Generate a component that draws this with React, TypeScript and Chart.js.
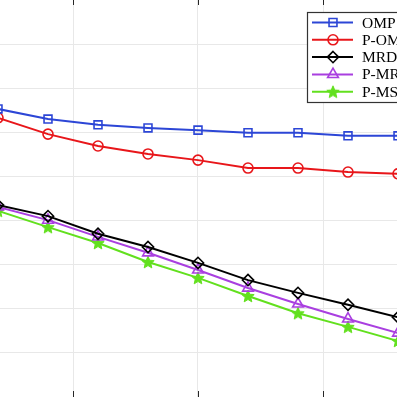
import React, { useEffect, useRef } from "react";
import { Chart, registerables } from "chart.js";
Chart.register(...registerables);

const xValues = [2, 4, 6, 8, 10, 12, 14, 16, 18];
const seriesLabels = ["OMP", "P-OMP", "MRD-OMP", "P-MRD-OMP", "P-MSOMP"];
const ompValues = [6.53, 6.3, 6.17, 6.1, 6.05, 5.99, 5.99, 5.92, 5.92];
const pOmpValues = [6.33, 5.96, 5.69, 5.51, 5.37, 5.19, 5.19, 5.1, 5.06];
const mrdOmpValues = [4.35, 4.1, 3.7, 3.4, 3.04, 2.65, 2.36, 2.09, 1.81];
const pMrdOmpValues = [4.31, 4.01, 3.63, 3.27, 2.88, 2.47, 2.11, 1.77, 1.45];
const pMsompValues = [4.22, 3.85, 3.49, 3.06, 2.7, 2.29, 1.9, 1.59, 1.27];
const xGridTicks = [5, 10, 15];
const yGridTicks = [1, 2, 3, 4, 5, 6, 7, 8];

const colors = ["#2c46d6", "#e8161a", "#000000", "#a93fe0", "#62e01e"];

function makeStar(color: string, size: number) {
  const c = document.createElement("canvas");
  c.width = size;
  c.height = size;
  const ctx = c.getContext("2d")!;
  const cx = size / 2;
  const cy = size / 2 + 0.6;
  const R = size / 2 - 0.5;
  const r = R * 0.45;
  ctx.beginPath();
  for (let i = 0; i < 10; i++) {
    const a = -Math.PI / 2 + (i * Math.PI) / 5;
    const rad = i % 2 === 0 ? R : r;
    ctx.lineTo(cx + rad * Math.cos(a), cy + rad * Math.sin(a));
  }
  ctx.closePath();
  ctx.fillStyle = color;
  ctx.fill();
  ctx.strokeStyle = color;
  ctx.lineWidth = 1;
  ctx.stroke();
  return c;
}

function drawMarker(ctx: CanvasRenderingContext2D, style: any, x: number, y: number, r: number, color: string) {
  ctx.save();
  ctx.strokeStyle = color;
  ctx.lineWidth = 1.6;
  ctx.beginPath();
  if (style === "rect") {
    const s = Math.SQRT1_2 * r;
    ctx.rect(x - s, y - s, 2 * s, 2 * s);
    ctx.stroke();
  } else if (style === "circle") {
    ctx.arc(x, y, r, 0, Math.PI * 2);
    ctx.stroke();
  } else if (style === "rectRot") {
    ctx.moveTo(x, y - r);
    ctx.lineTo(x + r, y);
    ctx.lineTo(x, y + r);
    ctx.lineTo(x - r, y);
    ctx.closePath();
    ctx.stroke();
  } else if (style === "triangle") {
    for (let i = 0; i < 3; i++) {
      const a = (i * 2 * Math.PI) / 3;
      ctx.lineTo(x + Math.sin(a) * r, y - Math.cos(a) * r);
    }
    ctx.closePath();
    ctx.stroke();
  } else if (style instanceof HTMLCanvasElement) {
    ctx.drawImage(style, x - style.width / 2, y - style.height / 2);
  }
  ctx.restore();
}

export default function App() {
  const ref = useRef<HTMLCanvasElement>(null);
  useEffect(() => {
    const star = makeStar(colors[4], 14);
    const styles: any[] = ["rect", "circle", "rectRot", "triangle", star];
    const radii = [5.6, 5, 5.6, 6.2, 7];
    const values = [ompValues, pOmpValues, mrdOmpValues, pMrdOmpValues, pMsompValues];

    const legendPlugin = {
      id: "boxLegend",
      afterDraw(chart: any) {
        const ctx: CanvasRenderingContext2D = chart.ctx;
        ctx.save();
        const xs = chart.scales.x;
        ctx.strokeStyle = "#262626";
        ctx.lineWidth = 1;
        for (const v of xGridTicks) {
          const px = Math.round(xs.getPixelForValue(v)) + 0.5;
          ctx.beginPath();
          ctx.moveTo(px, 0);
          ctx.lineTo(px, 5);
          ctx.moveTo(px, 391);
          ctx.lineTo(px, 397);
          ctx.stroke();
        }
        const bx = 307.5, by = 12.5, bw = 110, bh = 90;
        ctx.fillStyle = "#ffffff";
        ctx.fillRect(bx, by, bw, bh);
        ctx.strokeStyle = "#333333";
        ctx.lineWidth = 1.2;
        ctx.strokeRect(bx, by, bw, bh);
        ctx.font = "15.5px 'Liberation Serif'";
        ctx.textBaseline = "middle";
        ctx.textAlign = "left";
        seriesLabels.forEach((label, i) => {
          const y = 22.5 + i * 17.3;
          ctx.strokeStyle = colors[i];
          ctx.lineWidth = 2;
          ctx.beginPath();
          ctx.moveTo(312, y);
          ctx.lineTo(353, y);
          ctx.stroke();
          drawMarker(ctx, styles[i], 333, y, radii[i], colors[i]);
          ctx.fillStyle = "#000000";
          ctx.fillText(label, 362, y + 1);
        });
        ctx.restore();
      },
    };

    const chart = new Chart(ref.current!, {
      type: "line",
      data: {
        datasets: seriesLabels.map((label, i) => ({
          label,
          data: xValues.map((x, j) => ({ x, y: values[i][j] })),
          borderColor: colors[i],
          backgroundColor: colors[i],
          borderWidth: 2,
          pointStyle: styles[i],
          pointRadius: radii[i],
          pointBorderWidth: 1.6,
          pointBackgroundColor: "rgba(0,0,0,0)",
          pointBorderColor: colors[i],
          tension: 0,
          fill: false,
        })),
      },
      plugins: [legendPlugin],
      options: {
        animation: false,
        responsive: false,
        layout: { padding: 0, autoPadding: false },
        plugins: { legend: { display: false }, tooltip: { enabled: false } },
        scales: {
          x: {
            type: "linear",
            min: 2.08,
            max: 17.96,
            afterBuildTicks: (s: any) => {
              s.ticks = xGridTicks.map((v) => ({ value: v }));
            },
            ticks: { display: false },
            grid: { drawTicks: false, color: "#e8e8e8", lineWidth: 1 },
            border: { display: false },
          },
          y: {
            type: "linear",
            min: 0,
            max: 9,
            afterBuildTicks: (s: any) => {
              s.ticks = yGridTicks.map((v) => ({ value: v }));
            },
            ticks: { display: false },
            grid: { drawTicks: false, color: "#e8e8e8", lineWidth: 1 },
            border: { display: false },
          },
        },
      },
    });
    return () => chart.destroy();
  }, []);
  return (
    <div style={{ position: "fixed", left: 0, top: 0, width: 397, height: 397, background: "#fff" }}>
      <canvas ref={ref} width={397} height={397} style={{ display: "block" }} />
    </div>
  );
}
